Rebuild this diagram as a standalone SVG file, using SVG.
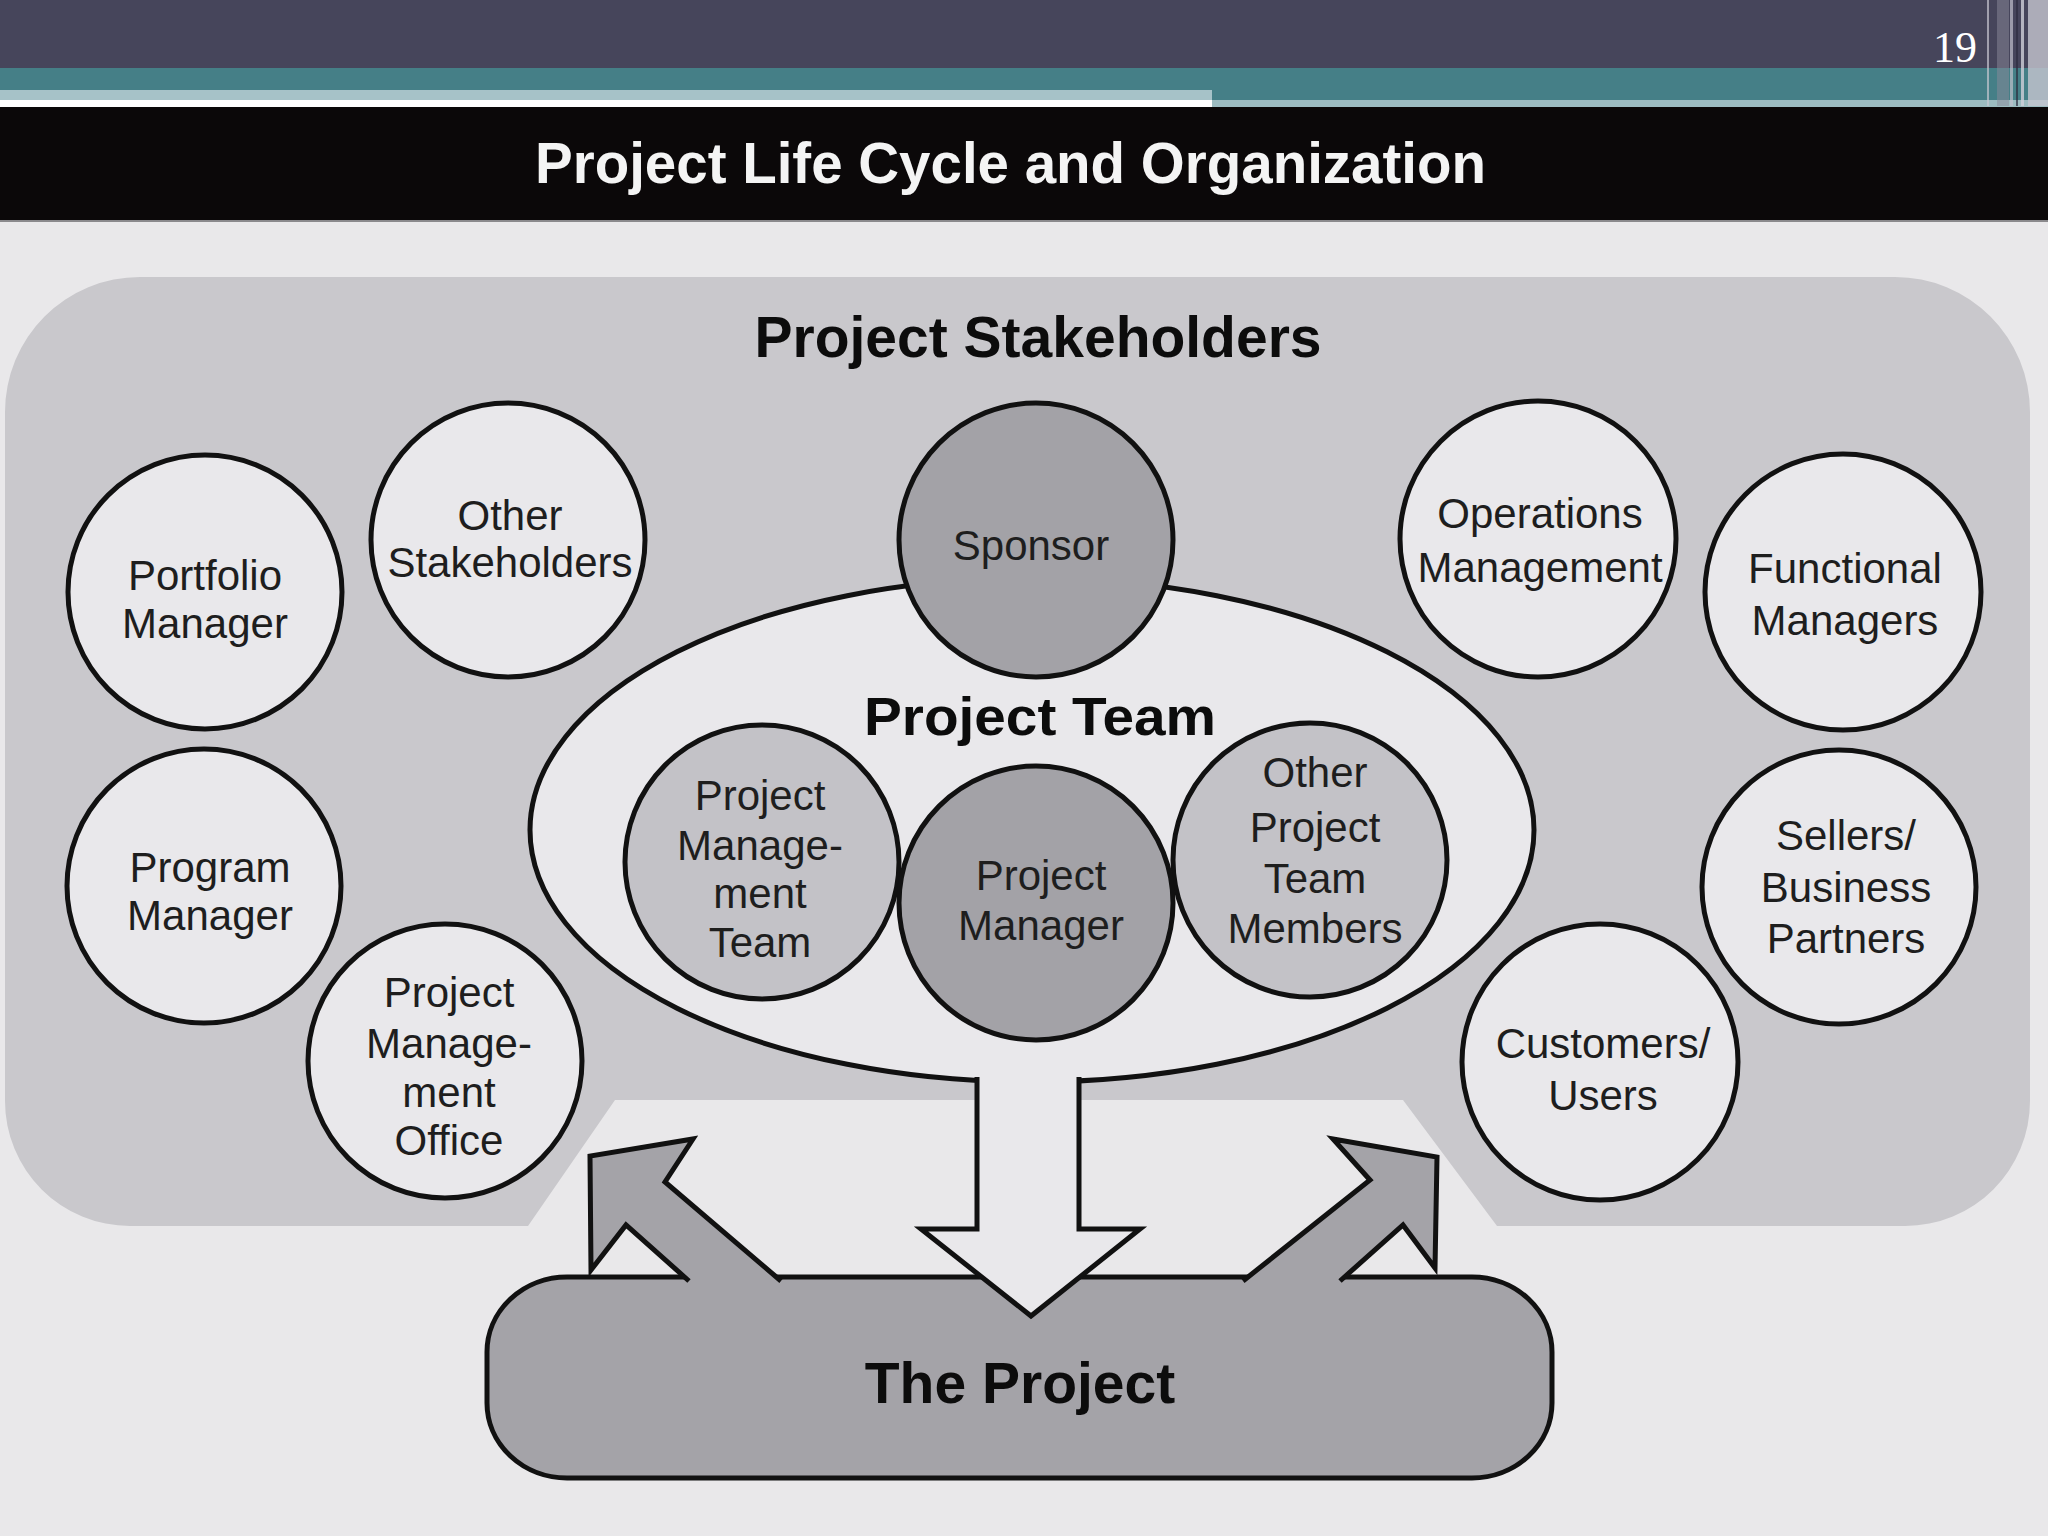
<svg xmlns="http://www.w3.org/2000/svg" width="2048" height="1536" viewBox="0 0 2048 1536">
<style>
.circ{stroke:#111;stroke-width:5}
.lt{fill:#e9e8eb}
.md{fill:#c3c2c7}
.dk{fill:#a3a2a7}
.lbl{font-family:"Liberation Sans",Arial,sans-serif;font-size:42px;fill:#1e1e1e;text-anchor:middle}
.hd{font-family:"Liberation Sans",Arial,sans-serif;font-weight:bold;fill:#0c0c0c;text-anchor:middle}
.conn{stroke:#111;stroke-width:5;stroke-linejoin:miter}
</style>
<rect x="0" y="0" width="2048" height="1536" fill="#e9e8ea"/>
<g id="header">
<rect x="0" y="0" width="2048" height="69" fill="#46455b"/>
<rect x="0" y="68" width="2048" height="36" fill="#457f87"/>
<rect x="0" y="90" width="1212" height="11" fill="#a6c2c8"/>
<rect x="0" y="100" width="1212" height="7" fill="#ffffff"/>
<rect x="1212" y="100" width="836" height="7" fill="#9dbcc1"/>
<rect x="1987" y="0" width="2" height="106" fill="#c8c8d2" opacity="0.7"/>
<rect x="1997" y="0" width="12" height="106" fill="#8a8a9a" opacity="0.5"/>
<rect x="2010" y="0" width="3" height="106" fill="#c0c0cc" opacity="0.7"/>
<rect x="2016" y="0" width="2" height="106" fill="#2e2e40" opacity="0.7"/>
<rect x="2021" y="0" width="3" height="106" fill="#d0d0da" opacity="0.8"/>
<rect x="2028" y="0" width="20" height="106" fill="#c6c6d0" opacity="0.8"/>
<text x="1955" y="62" font-family="'Liberation Serif',Georgia,serif" font-size="44" fill="#ffffff" text-anchor="middle">19</text>
<rect x="0" y="107" width="2048" height="113" fill="#0b0809"/>
<rect x="0" y="220" width="2048" height="2" fill="#8a898c"/>
<text x="535" y="183" font-family="'Liberation Sans',Arial,sans-serif" font-weight="bold" font-size="57" fill="#f4f4f4" textLength="951" lengthAdjust="spacingAndGlyphs">Project Life Cycle and Organization</text>
</g>
<g id="stakeholders">
<path d="M140,277 H1895 A135 135 0 0 1 2030,412 V1101 A125 125 0 0 1 1905,1226 H1497 L1403,1100 H615 L528,1226 H130 A125 125 0 0 1 5,1101 V412 A135 135 0 0 1 140,277 Z" fill="#c9c8cc"/>
<text class="hd" x="1038" y="357" font-size="57">Project Stakeholders</text>
</g>
<g id="project-team">
<ellipse cx="1032" cy="830" rx="502" ry="252" class="circ lt"/>
<text class="hd" x="1040" y="735" font-size="54" textLength="352" lengthAdjust="spacingAndGlyphs">Project Team</text>
</g>
<g id="portfolio-manager">
<circle cx="205" cy="592" r="137" class="circ lt"/>
<text class="lbl" x="205" y="590">Portfolio</text>
<text class="lbl" x="205" y="638">Manager</text>
</g>
<g id="other-stakeholders">
<circle cx="508" cy="540" r="137" class="circ lt"/>
<text class="lbl" x="510" y="530">Other</text>
<text class="lbl" x="510" y="577">Stakeholders</text>
</g>
<g id="sponsor">
<circle cx="1036" cy="540" r="137" class="circ dk"/>
<text class="lbl" x="1031" y="560">Sponsor</text>
</g>
<g id="operations-management">
<circle cx="1538" cy="539" r="138" class="circ lt"/>
<text class="lbl" x="1540" y="528">Operations</text>
<text class="lbl" x="1540" y="582">Management</text>
</g>
<g id="functional-managers">
<circle cx="1843" cy="592" r="138" class="circ lt"/>
<text class="lbl" x="1845" y="583">Functional</text>
<text class="lbl" x="1845" y="635">Managers</text>
</g>
<g id="program-manager">
<circle cx="204" cy="886" r="137" class="circ lt"/>
<text class="lbl" x="210" y="882">Program</text>
<text class="lbl" x="210" y="930">Manager</text>
</g>
<g id="pmo">
<circle cx="445" cy="1061" r="137" class="circ lt"/>
<text class="lbl" x="449" y="1007">Project</text>
<text class="lbl" x="449" y="1058">Manage-</text>
<text class="lbl" x="449" y="1107">ment</text>
<text class="lbl" x="449" y="1155">Office</text>
</g>
<g id="sellers">
<circle cx="1839" cy="887" r="137" class="circ lt"/>
<text class="lbl" x="1846" y="850">Sellers/</text>
<text class="lbl" x="1846" y="902">Business</text>
<text class="lbl" x="1846" y="953">Partners</text>
</g>
<g id="customers">
<circle cx="1600" cy="1062" r="138" class="circ lt"/>
<text class="lbl" x="1603" y="1058">Customers/</text>
<text class="lbl" x="1603" y="1110">Users</text>
</g>
<g id="pm-team">
<circle cx="762" cy="862" r="137" class="circ md"/>
<text class="lbl" x="760" y="810">Project</text>
<text class="lbl" x="760" y="860">Manage-</text>
<text class="lbl" x="760" y="908">ment</text>
<text class="lbl" x="760" y="957">Team</text>
</g>
<g id="other-team-members">
<circle cx="1310" cy="860" r="137" class="circ md"/>
<text class="lbl" x="1315" y="787">Other</text>
<text class="lbl" x="1315" y="842">Project</text>
<text class="lbl" x="1315" y="893">Team</text>
<text class="lbl" x="1315" y="943">Members</text>
</g>
<g id="project-manager">
<circle cx="1036" cy="903" r="137" class="circ dk"/>
<text class="lbl" x="1041" y="890">Project</text>
<text class="lbl" x="1041" y="940">Manager</text>
</g>
<g id="the-project">
<path d="M567,1277 H1472 A80 75 0 0 1 1552,1352 V1403 A80 75 0 0 1 1472,1478 H567 A80 75 0 0 1 487,1403 V1352 A80 75 0 0 1 567,1277 Z" fill="#a4a3a8" stroke="#111" stroke-width="5"/>
</g>
<g id="connectors">
<path class="conn" d="M689,1281 L626,1225 L591,1270 L590,1156 L693,1139 L665,1182 L781,1281" fill="#a4a3a8"/>
<path class="conn" d="M1243,1281 L1370,1180 L1333,1139 L1437,1157 L1435,1268 L1403,1225 L1340,1281" fill="#a4a3a8"/>
<path class="conn" d="M977,1077 V1229 H921 L1031,1316 L1140,1229 H1079 V1077" fill="#e9e8eb"/>
</g>
<text class="hd" x="1020" y="1403" font-size="57">The Project</text>
</svg>
